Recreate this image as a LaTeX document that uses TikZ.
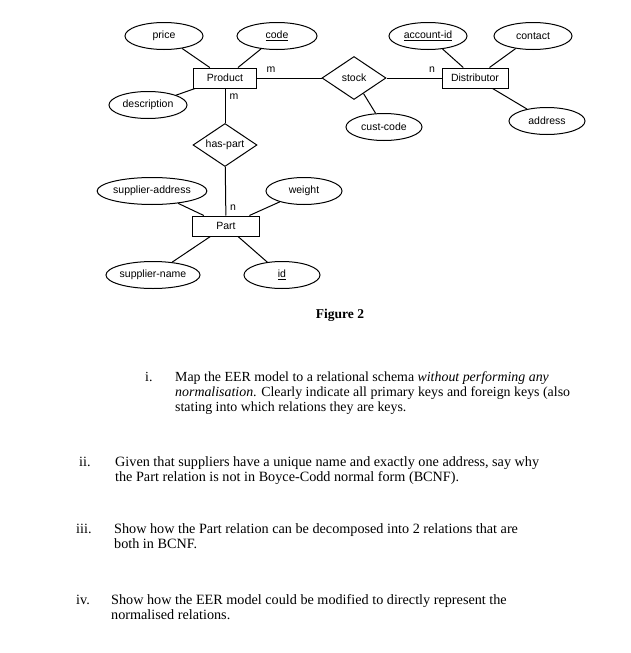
\documentclass[tikz,border=0pt]{standalone}
\usepackage{fontspec}
\setmainfont{Liberation Serif}
\newfontfamily\arialf{Liberation Sans}
\usetikzlibrary{shapes.geometric}
\begin{document}
\begin{tikzpicture}[x=1pt,y=-1pt,
  lbl/.style={font=\arialf\fontsize{10.5}{12}\selectfont},
  attr/.style={ellipse,draw,line width=1pt,inner sep=0pt,minimum width=#1,minimum height=27pt,lbl},
  attr/.default=78pt,
  ent/.style={rectangle,draw,line width=1pt,inner sep=0pt,minimum width=#1,minimum height=20pt,lbl},
  ent/.default=64pt,
  rel/.style={diamond,draw,line width=1pt,inner sep=0pt,aspect=1.45,minimum width=64pt,minimum height=43pt,lbl},
  card/.style={lbl,inner sep=0pt},
  conn/.style={line width=1pt},
  para/.style={align=left,inner sep=0pt,anchor=north west,font=\fontsize{14.2}{15.5}\selectfont},
  num/.style={inner sep=0pt,anchor=north west,font=\fontsize{14.2}{15.5}\selectfont}
  ]
\useasboundingbox (0,0) rectangle (630,653);
% entities
\node[ent=63pt] (product) at (225,78) {Product};
\node[ent=66pt] (distributor) at (475,78) {Distributor};
\node[ent=67pt] (part) at (226,226) {Part};
% relationships
\node[rel] (stock) at (354,78) {stock};
\node[rel] (haspart) at (225,145) {has-part};
% attributes
\node[attr] (price) at (164,36) {price};
\node[attr=80pt] (code) at (277,36) {\underline{code}};
\node[attr] (description) at (148,105) {description};
\node[attr] (accountid) at (428,36) {\underline{account-id}};
\node[attr] (contact) at (533,36) {contact};
\node[attr=76pt] (custcode) at (384,127) {cust-code};
\node[attr=76pt] (address) at (547,121) {address};
\node[attr=100pt] (supaddr) at (152,191) {supplier-address};
\node[attr=76pt] (weight) at (304,191) {weight};
\node[attr=84pt] (supname) at (153,275) {supplier-name};
\node[attr=76pt] (id) at (282,275) {\underline{id}};
% connectors
\draw[conn] (price) -- (product);
\draw[conn] (code) -- (product);
\draw[conn] (description) -- (product);
\draw[conn] (product) -- (stock);
\draw[conn] (stock) -- (distributor);
\draw[conn] (stock) -- (custcode);
\draw[conn] (accountid) -- (distributor);
\draw[conn] (contact) -- (distributor);
\draw[conn] (distributor) -- (address);
\draw[conn] (product) -- (haspart);
\draw[conn] (haspart) -- (part);
\draw[conn] (supaddr) -- (part);
\draw[conn] (weight) -- (part);
\draw[conn] (part) -- (supname);
\draw[conn] (part) -- (id);
% cardinalities
\node[card] (m1) at (271,70) {m};
\node[card] (m2) at (234,97) {m};
\node[card] (n1) at (432,70) {n};
\node[card] (n2) at (233,208) {n};
% caption
\node[inner sep=0pt,font=\bfseries\fontsize{13.5}{15.5}\selectfont] (fig) at (340,315) {Figure 2};
% questions
\node[num,font=\fontsize{13.9}{15}\selectfont] (qi) at (145,371) {\strut i.};
\node[para,font=\fontsize{13.9}{15}\selectfont] (ti) at (175,371) {\strut Map the EER model to a relational schema \textit{without performing any}\\\textit{normalisation}. Clearly indicate all primary keys and foreign keys (also\\stating into which relations they are keys.};
\node[num] (qii) at (79,455) {\strut ii.};
\node[para] (tii) at (115,455) {\strut Given that suppliers have a unique name and exactly one address, say why\\the Part relation is not in Boyce-Codd normal form (BCNF).};
\node[num] (qiii) at (76,522) {\strut iii.};
\node[para] (tiii) at (114,522) {\strut Show how the Part relation can be decomposed into 2 relations that are\\both in BCNF.};
\node[num] (qiv) at (76,593) {\strut iv.};
\node[para] (tiv) at (111,593) {\strut Show how the EER model could be modified to directly represent the\\normalised relations.};
\end{tikzpicture}
\end{document}
